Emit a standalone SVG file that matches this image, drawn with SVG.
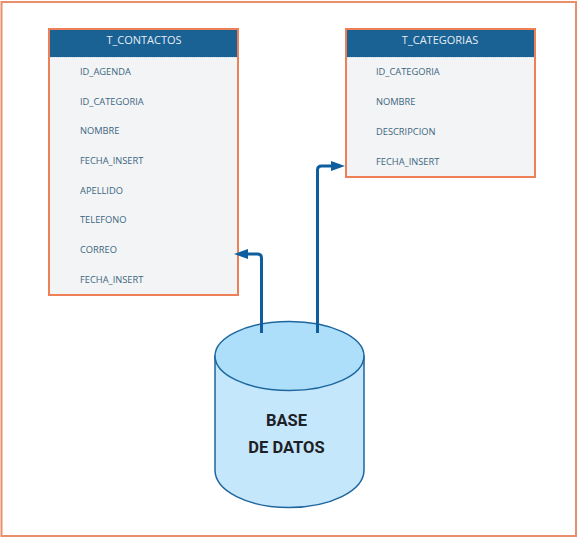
<svg xmlns="http://www.w3.org/2000/svg" width="578" height="537" viewBox="0 0 578 537">
<style>
.box{fill:#f3f4f6;stroke:#ee8057;stroke-width:2}
.hd{fill:#1a6194}
.dots{stroke:#c9dce9;stroke-width:1;stroke-dasharray:1 1}
.ht{font:11px "Open Sans","Liberation Sans",sans-serif;fill:#e4edf3;text-anchor:middle}
.f{font:9.300px "Open Sans","Liberation Sans",sans-serif;fill:#3b6680}
.db{font:bold 16.500px "Roboto","Liberation Sans",sans-serif;fill:#1d2126;text-anchor:middle}
.cyl{stroke:#1d669e;stroke-width:1.500}
.c{fill:none;stroke:#0f5f9f;stroke-width:3}
</style>
<defs><marker id="a" markerUnits="userSpaceOnUse" markerWidth="14" markerHeight="10" refX="7" refY="5" orient="auto"><path d="M0 0L14 5L0 10Z" fill="#0f5f9f"/></marker></defs>
<rect x="1.500" y="2" width="574.500" height="534" fill="#fff" stroke="#e98f6c" stroke-width="2"/>
<g id="t_contactos">
<rect class="box" x="49" y="29" width="189" height="266"/>
<rect class="hd" x="50" y="30" width="187" height="27"/>
<line class="dots" x1="50" y1="57.500" x2="237" y2="57.500"/>
<text class="ht" x="144" y="44">T_CONTACTOS</text>
<text class="f" x="80" y="75">ID_AGENDA</text>
<text class="f" x="80" y="105">ID_CATEGORIA</text>
<text class="f" x="80" y="134">NOMBRE</text>
<text class="f" x="80" y="164">FECHA_INSERT</text>
<text class="f" x="80" y="194">APELLIDO</text>
<text class="f" x="80" y="223">TELEFONO</text>
<text class="f" x="80" y="253">CORREO</text>
<text class="f" x="80" y="283">FECHA_INSERT</text>
</g>
<g id="t_categorias">
<rect class="box" x="346" y="29" width="189" height="148"/>
<rect class="hd" x="347" y="30" width="187" height="27"/>
<line class="dots" x1="347" y1="57.500" x2="534" y2="57.500"/>
<text class="ht" x="440" y="44">T_CATEGORIAS</text>
<text class="f" x="376" y="75">ID_CATEGORIA</text>
<text class="f" x="376" y="105">NOMBRE</text>
<text class="f" x="376" y="135">DESCRIPCION</text>
<text class="f" x="376" y="165">FECHA_INSERT</text>
</g>
<g id="base_de_datos">
<path class="cyl" fill="#c5e7fb" d="M215 356V470C215 491 248 507.500 289 507.500S364 491 364 470V356Z"/>
<ellipse class="cyl" cx="289.500" cy="356" rx="74.500" ry="34.500" fill="#addffb"/>
<text class="db" x="286.500" y="426">BASE</text>
<text class="db" x="286.500" y="453">DE DATOS</text>
</g>
<g id="connectors">
<path class="c" marker-end="url(#a)" d="M261.500 333V258Q261.500 254 257.500 254H241"/>
<path class="c" marker-end="url(#a)" d="M317.500 333V170Q317.500 166 321.500 166H338"/>
</g>
</svg>
